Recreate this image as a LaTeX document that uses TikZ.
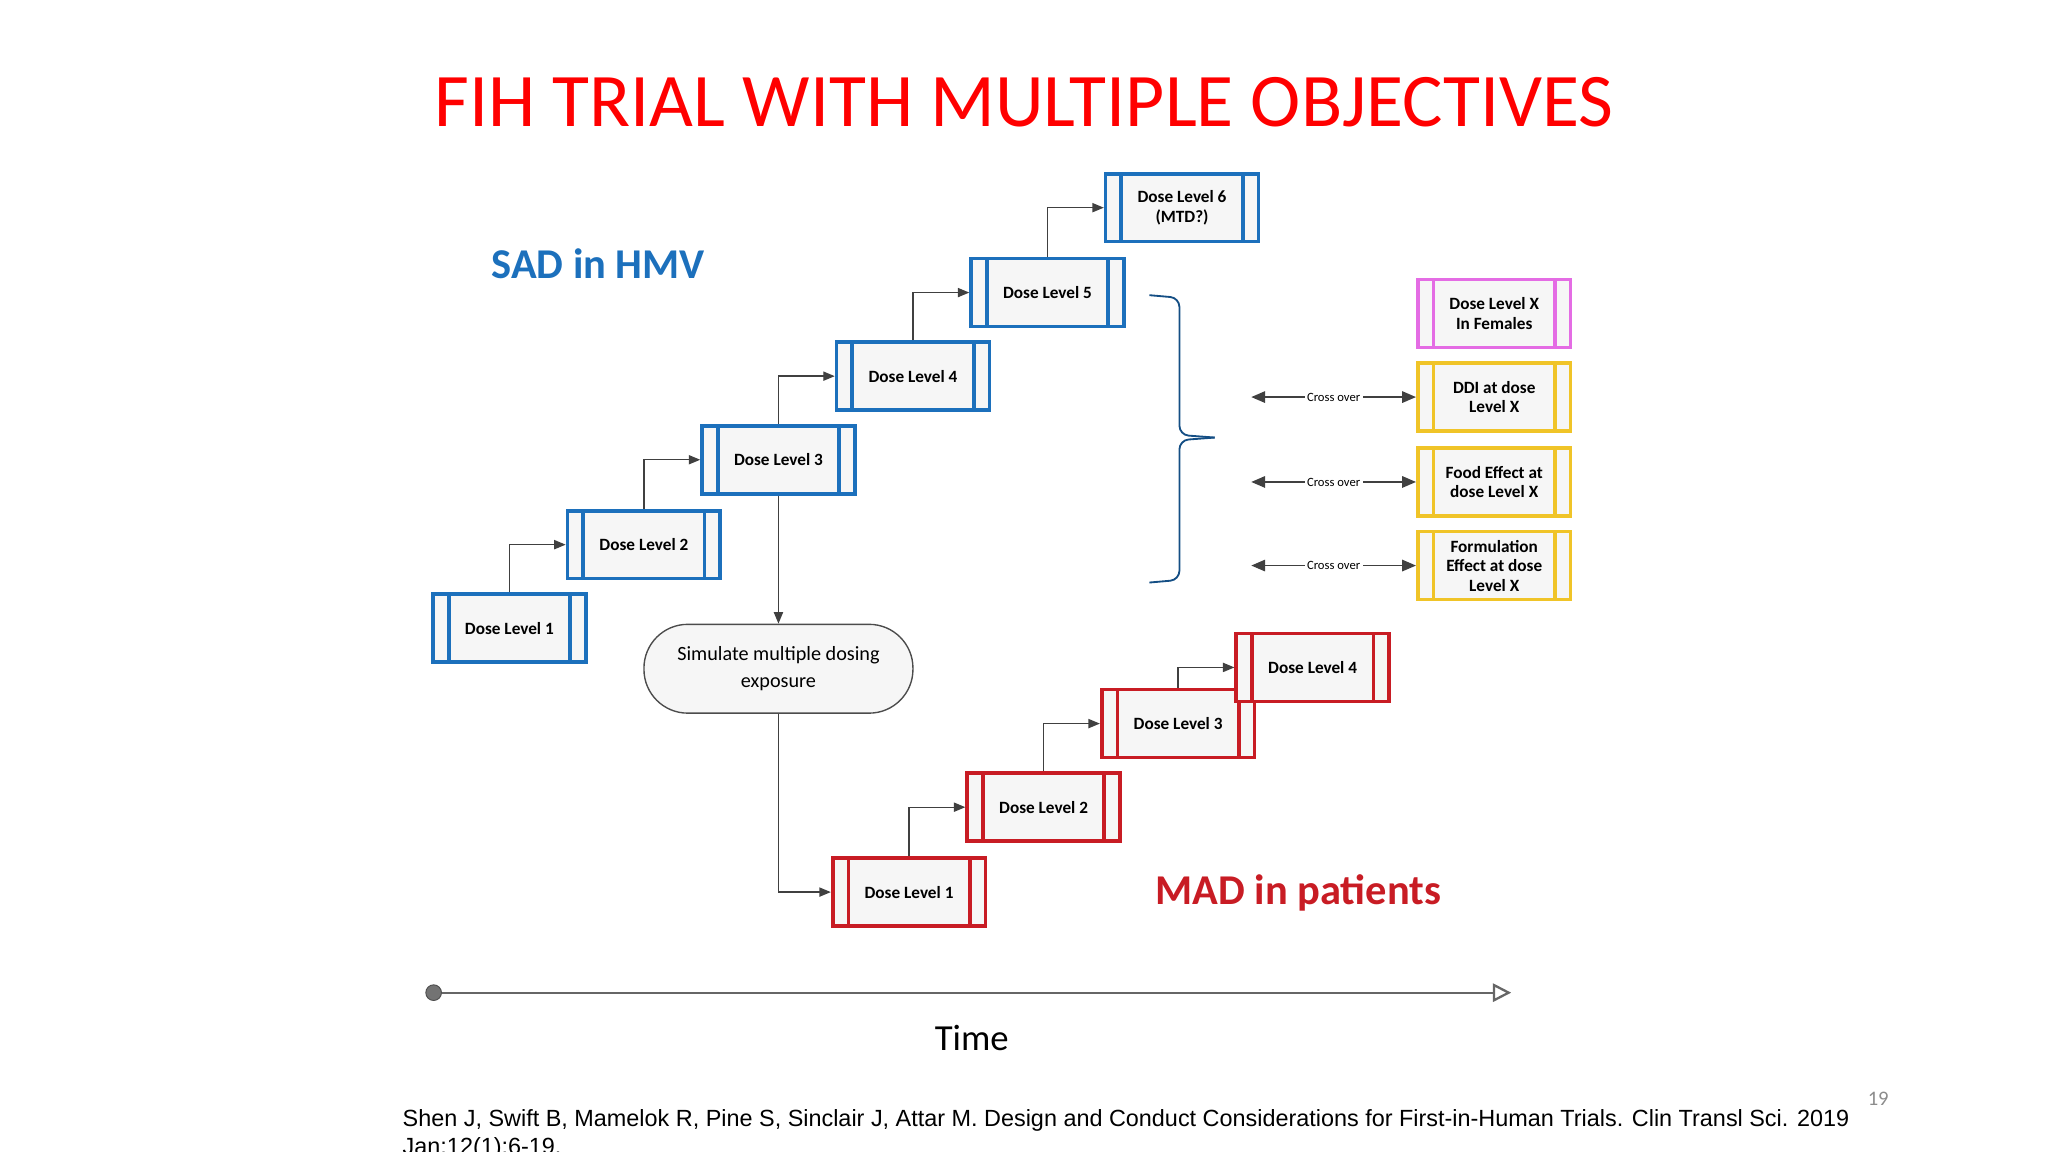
\documentclass[tikz,border=0pt]{standalone}
\usepackage{fontspec}
\setmainfont{Carlito}
\newfontfamily\arialf{Liberation Sans}
\usetikzlibrary{arrows.meta}
\definecolor{sadblue}{RGB}{28,112,188}
\definecolor{madred}{RGB}{200,28,36}
\definecolor{pinkb}{RGB}{228,108,228}
\definecolor{yelb}{RGB}{240,196,40}
\definecolor{boxfill}{RGB}{246,246,246}
\begin{document}
\begin{tikzpicture}[x=0.02cm,y=-0.02cm,
  dose/.style={draw=#1,line width=1.6pt,fill=boxfill,minimum width=2.34cm,minimum height=1.04cm,
    align=center,font=\fontsize{7.5}{8.5}\selectfont\bfseries,inner sep=0pt,
    path picture={\draw[#1,line width=1.6pt]
      ([xshift=0.24cm]path picture bounding box.south west)--([xshift=0.24cm]path picture bounding box.north west);
      \draw[#1,line width=1.6pt]
      ([xshift=-0.24cm]path picture bounding box.south east)--([xshift=-0.24cm]path picture bounding box.north east);}},
  arr/.style={draw=black!75,line width=0.6pt,-{Triangle[length=5pt,width=4pt]}},
  cross/.style={draw=black!75,line width=0.6pt,{Triangle[length=6pt,width=5pt]}-{Triangle[length=6pt,width=5pt]}}]
\useasboundingbox (0,0) rectangle (1568,882);
\node[text=red,font=\fontsize{33}{38}\selectfont] (title) at (784,78) {FIH TRIAL WITH MULTIPLE OBJECTIVES};
\node[text=sadblue,font=\fontsize{18.5}{22}\selectfont\bfseries] (sad) at (458,202) {SAD in HMV};
\node[text=madred,font=\fontsize{18.5}{22}\selectfont\bfseries] (mad) at (994,684) {MAD in patients};
% blue
\node[dose=sadblue] (b1) at (390,481) {Dose Level 1};
\node[dose=sadblue] (b2) at (493,417) {Dose Level 2};
\node[dose=sadblue] (b3) at (596,352) {Dose Level 3};
\node[dose=sadblue] (b4) at (699,288) {Dose Level 4};
\node[dose=sadblue] (b5) at (802,224) {Dose Level 5};
\node[dose=sadblue] (b6) at (905,159) {Dose Level 6\\(MTD?)};
\draw[arr] (b1.north) |- (b2.west);
\draw[arr] (b2.north) |- (b3.west);
\draw[arr] (b3.north) |- (b4.west);
\draw[arr] (b4.north) |- (b5.west);
\draw[arr] (b5.north) |- (b6.west);
\node[draw=black!70,line width=0.6pt,fill=boxfill,rounded corners=0.67cm,minimum width=4.12cm,minimum height=1.36cm,
  align=center,font=\fontsize{8.8}{11.5}\selectfont] (sim) at (596,512) {Simulate multiple dosing\\exposure};
\draw[arr] (b3.south) -- (sim.north);
% red
\node[dose=madred] (r1) at (696,683) {Dose Level 1};
\node[dose=madred] (r2) at (799,618) {Dose Level 2};
\node[dose=madred] (r3) at (902,554) {Dose Level 3};
\node[dose=madred] (r4) at (1005,511) {Dose Level 4};
\draw[arr] (sim.south) |- (r1.west);
\draw[arr] (r1.north) |- (r2.west);
\draw[arr] (r2.north) |- (r3.west);
\draw[arr] (r3.north) |- (r4.west);
% brace
\draw[sadblue!70!black,line width=0.8pt,rounded corners=4pt]
  (880,226) -- (903,228) -- (903,333) -- (930,335);
\draw[sadblue!70!black,line width=0.8pt,rounded corners=4pt]
  (930,335) -- (903,337) -- (903,444) -- (880,446);
% right boxes
\node[dose=pinkb] (p1) at (1144,240) {Dose Level X\\In Females};
\node[dose=yelb] (y1) at (1144,304) {DDI at dose\\Level X};
\node[dose=yelb] (y2) at (1144,369) {Food Effect at\\dose Level X};
\node[dose=yelb] (y3) at (1144,433) {Formulation\\Effect at dose\\Level X};
\coordinate (c1) at (958,304);
\coordinate (c2) at (958,369);
\coordinate (c3) at (958,433);
\foreach \c/\y in {c1/y1,c2/y2,c3/y3}
  \draw[cross] (\c) -- (\y.west) node[midway,fill=white,inner sep=1pt,font=\fontsize{5.5}{6}\selectfont]{Cross over};
% timeline
\coordinate (tend) at (1157,760);
\node[circle,fill=black!55,draw=black!70,minimum size=0.24cm,inner sep=0pt] (t0) at (332,760) {};
\draw[black!60,line width=1pt,-{Triangle[open,length=8pt,width=8pt]}] (t0) -- (tend);
\node[font=\fontsize{16}{19}\selectfont] (time) at (744,795) {Time};
\node[text=black!45,font=\fontsize{9}{10}\selectfont] (pg) at (1438,841) {19};
\node[anchor=north west,font=\arialf\fontsize{10.2}{12.4}\selectfont,align=left,inner sep=0pt] (cit) at (308,849)
 {Shen J, Swift B, Mamelok R, Pine S, Sinclair J, Attar M. Design and Conduct Considerations for First-in-Human Trials. Clin Transl Sci. 2019\\Jan;12(1):6-19.};
\end{tikzpicture}
\end{document}
